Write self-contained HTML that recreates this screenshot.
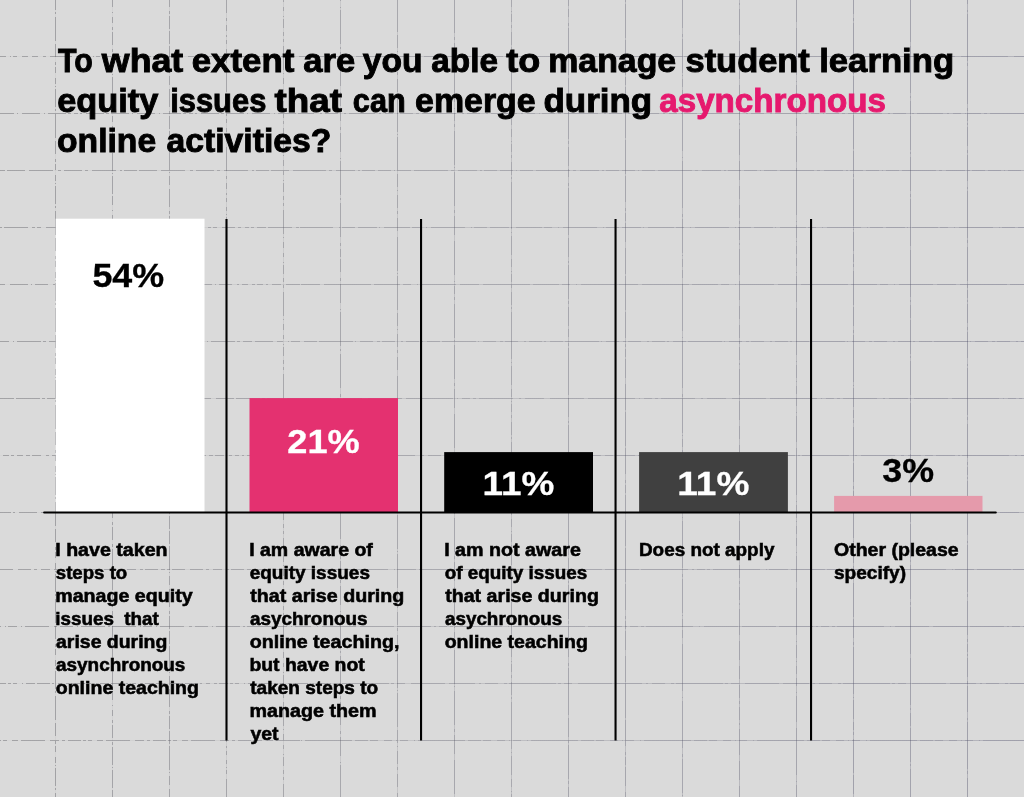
<!DOCTYPE html>
<html lang="en"><head><meta charset="utf-8"><title>Survey chart</title>
<style>
html,body{margin:0;padding:0;background:#dadada;}
body{width:1024px;height:797px;overflow:hidden;}
svg{display:block;}
text{font-family:"Liberation Sans",sans-serif;font-weight:bold;stroke-linejoin:miter;}
.t{font-size:32.6px;stroke-width:0.9;}
.p{font-size:33.8px;stroke-width:0.3;}
.l{font-size:18.4px;stroke-width:0.55;}
</style></head><body>
<svg width="1024" height="797" viewBox="0 0 1024 797">
<rect width="1024" height="797" fill="#dadada"/>
<defs><linearGradient id="hg" gradientUnits="userSpaceOnUse" x1="0" y1="0" x2="1024" y2="0"><stop offset="0" stop-color="#5c5c62" stop-opacity="0.03"/><stop offset="0.3" stop-color="#575763" stop-opacity="0.12"/><stop offset="0.5" stop-color="#535364" stop-opacity="0.2"/><stop offset="1" stop-color="#4a4a66" stop-opacity="0.27"/></linearGradient><linearGradient id="hd" gradientUnits="userSpaceOnUse" x1="0" y1="0" x2="1024" y2="0"><stop offset="0" stop-color="#5c5c62" stop-opacity="0.42"/><stop offset="0.3" stop-color="#575763" stop-opacity="0.3"/><stop offset="0.5" stop-color="#535364" stop-opacity="0.2"/><stop offset="1" stop-color="#4a4a66" stop-opacity="0.18"/></linearGradient></defs>
<g stroke-width="1" fill="none" shape-rendering="crispEdges">
<line x1="55.3" y1="0" x2="55.3" y2="797" stroke="#5b5b62" opacity="0.05"/>
<line x1="55.3" y1="0" x2="55.3" y2="797" stroke="#5b5b62" opacity="0.40" stroke-dasharray="13 5 3 2 6 5 6 2 1 2 18 2 2 3 24 3" stroke-dashoffset="53"/>
<line x1="112.3" y1="0" x2="112.3" y2="797" stroke="#5a5a62" opacity="0.06"/>
<line x1="112.3" y1="0" x2="112.3" y2="797" stroke="#5a5a62" opacity="0.38" stroke-dasharray="18 2 1 2 18 2 9 5 1 4 6 4 3 2 13 4 3 2" stroke-dashoffset="45"/>
<line x1="169.3" y1="0" x2="169.3" y2="797" stroke="#595963" opacity="0.08"/>
<line x1="169.3" y1="0" x2="169.3" y2="797" stroke="#595963" opacity="0.35" stroke-dasharray="9 4 18 4 3 2 13 2 13 2 24 2 1 3" stroke-dashoffset="24"/>
<line x1="226.4" y1="0" x2="226.4" y2="797" stroke="#585863" opacity="0.10"/>
<line x1="226.4" y1="0" x2="226.4" y2="797" stroke="#585863" opacity="0.33" stroke-dasharray="24 5 3 4 6 4 2 3 4 5 4 3 1 2 4 5" stroke-dashoffset="11"/>
<line x1="283.4" y1="0" x2="283.4" y2="797" stroke="#575763" opacity="0.11"/>
<line x1="283.4" y1="0" x2="283.4" y2="797" stroke="#575763" opacity="0.31" stroke-dasharray="24 3 1 4 6 5 4 5 1 2 9 4 4 3 3 4" stroke-dashoffset="36"/>
<line x1="340.4" y1="0" x2="340.4" y2="797" stroke="#565663" opacity="0.13"/>
<line x1="340.4" y1="0" x2="340.4" y2="797" stroke="#565663" opacity="0.28" stroke-dasharray="8 2 13 6 3 3 19 6 1 2 34 3 2 3 34 6 3 3" stroke-dashoffset="53"/>
<line x1="397.4" y1="0" x2="397.4" y2="797" stroke="#555564" opacity="0.16"/>
<line x1="397.4" y1="0" x2="397.4" y2="797" stroke="#555564" opacity="0.26" stroke-dasharray="34 3 13 3 1 4 13 3 3 4 13 6 34 2 1 2" stroke-dashoffset="2"/>
<line x1="454.4" y1="0" x2="454.4" y2="797" stroke="#545464" opacity="0.18"/>
<line x1="454.4" y1="0" x2="454.4" y2="797" stroke="#545464" opacity="0.23" stroke-dasharray="34 4 3 3 19 6 34 6 1 4 8 3 3 4 34 2 1 4" stroke-dashoffset="1"/>
<line x1="511.5" y1="0" x2="511.5" y2="797" stroke="#535364" opacity="0.20"/>
<line x1="511.5" y1="0" x2="511.5" y2="797" stroke="#535364" opacity="0.20" stroke-dasharray="8 4 1 2 8 3 3 4 13 2 2 3 47 3 1 3 19 4" stroke-dashoffset="1"/>
<line x1="568.5" y1="0" x2="568.5" y2="797" stroke="#525264" opacity="0.21"/>
<line x1="568.5" y1="0" x2="568.5" y2="797" stroke="#525264" opacity="0.20" stroke-dasharray="34 2 3 3 19 3 8 6 3 2 47 3 19 4 2 2" stroke-dashoffset="55"/>
<line x1="625.5" y1="0" x2="625.5" y2="797" stroke="#515164" opacity="0.22"/>
<line x1="625.5" y1="0" x2="625.5" y2="797" stroke="#515164" opacity="0.20" stroke-dasharray="26 2 34 2 26 6 3 2 8 2 19 6" stroke-dashoffset="24"/>
<line x1="682.5" y1="0" x2="682.5" y2="797" stroke="#505065" opacity="0.22"/>
<line x1="682.5" y1="0" x2="682.5" y2="797" stroke="#505065" opacity="0.19" stroke-dasharray="47 6 3 2 34 2 1 3 8 3 8 6 47 6 1 3" stroke-dashoffset="19"/>
<line x1="739.5" y1="0" x2="739.5" y2="797" stroke="#4f4f65" opacity="0.23"/>
<line x1="739.5" y1="0" x2="739.5" y2="797" stroke="#4f4f65" opacity="0.19" stroke-dasharray="13 3 2 4 26 6 19 6 13 6 13 3 3 3" stroke-dashoffset="13"/>
<line x1="796.6" y1="0" x2="796.6" y2="797" stroke="#4e4e65" opacity="0.24"/>
<line x1="796.6" y1="0" x2="796.6" y2="797" stroke="#4e4e65" opacity="0.19" stroke-dasharray="13 3 1 4 8 4 8 6 1 3 26 6 47 6 1 3" stroke-dashoffset="55"/>
<line x1="853.6" y1="0" x2="853.6" y2="797" stroke="#4d4d65" opacity="0.25"/>
<line x1="853.6" y1="0" x2="853.6" y2="797" stroke="#4d4d65" opacity="0.19" stroke-dasharray="34 2 19 4 3 2 47 3 1 2 19 3 8 2 3 4" stroke-dashoffset="41"/>
<line x1="910.6" y1="0" x2="910.6" y2="797" stroke="#4c4c66" opacity="0.25"/>
<line x1="910.6" y1="0" x2="910.6" y2="797" stroke="#4c4c66" opacity="0.18" stroke-dasharray="47 4 47 3 2 3 13 2 34 2 2 3 34 3 3 2" stroke-dashoffset="5"/>
<line x1="967.6" y1="0" x2="967.6" y2="797" stroke="#4b4b66" opacity="0.26"/>
<line x1="967.6" y1="0" x2="967.6" y2="797" stroke="#4b4b66" opacity="0.18" stroke-dasharray="26 6 2 2 47 2 3 4 34 4 3 2 8 2 2 2 19 4 3 2" stroke-dashoffset="22"/>
<line x1="0" y1="56.4" x2="1024" y2="56.4" stroke="url(#hg)"/>
<line x1="0" y1="56.4" x2="300" y2="56.4" stroke="url(#hd)" stroke-dasharray="18 2 2 4 13 4 1 2 4 5 6 4 6 5 3 4" stroke-dashoffset="33"/>
<line x1="300" y1="56.4" x2="1024" y2="56.4" stroke="url(#hd)" stroke-dasharray="47 6 26 2 26 4 34 3 3 3 19 6" stroke-dashoffset="55"/>
<line x1="0" y1="113.4" x2="1024" y2="113.4" stroke="url(#hg)"/>
<line x1="0" y1="113.4" x2="300" y2="113.4" stroke="url(#hd)" stroke-dasharray="18 3 1 4 18 4 1 3 18 2 3 3 4 2 2 4 18 2 3 2" stroke-dashoffset="4"/>
<line x1="300" y1="113.4" x2="1024" y2="113.4" stroke="url(#hd)" stroke-dasharray="34 6 2 3 13 6 2 3 26 4 2 4 8 4 1 2 13 3 3 3" stroke-dashoffset="20"/>
<line x1="0" y1="170.4" x2="1024" y2="170.4" stroke="url(#hg)"/>
<line x1="0" y1="170.4" x2="300" y2="170.4" stroke="url(#hd)" stroke-dasharray="24 4 2 2 13 2 18 4 24 5 3 3 18 3 3 4" stroke-dashoffset="40"/>
<line x1="300" y1="170.4" x2="1024" y2="170.4" stroke="url(#hd)" stroke-dasharray="13 3 34 3 3 4 19 3 2 2 13 3 13 3 1 3" stroke-dashoffset="24"/>
<line x1="0" y1="227.5" x2="1024" y2="227.5" stroke="url(#hg)"/>
<line x1="0" y1="227.5" x2="300" y2="227.5" stroke="url(#hd)" stroke-dasharray="4 5 13 3 3 4 4 2 3 3 9 2 24 4 3 2" stroke-dashoffset="51"/>
<line x1="300" y1="227.5" x2="1024" y2="227.5" stroke="url(#hd)" stroke-dasharray="8 6 1 4 34 6 1 2 13 3 19 2 1 4 26 2" stroke-dashoffset="20"/>
<line x1="0" y1="284.5" x2="1024" y2="284.5" stroke="url(#hg)"/>
<line x1="0" y1="284.5" x2="300" y2="284.5" stroke="url(#hd)" stroke-dasharray="13 5 2 3 6 4 3 2 6 3 2 4 9 5 18 3 1 3" stroke-dashoffset="57"/>
<line x1="300" y1="284.5" x2="1024" y2="284.5" stroke="url(#hd)" stroke-dasharray="8 6 1 4 34 4 19 4 47 3 26 3" stroke-dashoffset="56"/>
<line x1="0" y1="341.5" x2="1024" y2="341.5" stroke="url(#hg)"/>
<line x1="0" y1="341.5" x2="300" y2="341.5" stroke="url(#hd)" stroke-dasharray="18 4 6 5 1 2 9 4 1 3 24 2 3 3 9 3" stroke-dashoffset="36"/>
<line x1="300" y1="341.5" x2="1024" y2="341.5" stroke="url(#hd)" stroke-dasharray="13 2 2 4 13 2 34 2 1 4 13 4 3 2 13 6 2 3" stroke-dashoffset="17"/>
<line x1="0" y1="398.5" x2="1024" y2="398.5" stroke="url(#hg)"/>
<line x1="0" y1="398.5" x2="300" y2="398.5" stroke="url(#hd)" stroke-dasharray="9 5 18 2 24 2 3 2 13 3 1 3 18 2 2 3" stroke-dashoffset="18"/>
<line x1="300" y1="398.5" x2="1024" y2="398.5" stroke="url(#hd)" stroke-dasharray="34 6 2 4 19 6 34 4 47 4 1 4 8 3 3 3" stroke-dashoffset="3"/>
<line x1="0" y1="455.5" x2="1024" y2="455.5" stroke="url(#hg)"/>
<line x1="0" y1="455.5" x2="300" y2="455.5" stroke="url(#hd)" stroke-dasharray="9 5 3 3 4 3 2 3 6 2 3 3 6 3 4 2" stroke-dashoffset="29"/>
<line x1="300" y1="455.5" x2="1024" y2="455.5" stroke="url(#hd)" stroke-dasharray="8 3 19 3 2 2 47 6 2 4 34 6 3 4 13 4" stroke-dashoffset="15"/>
<line x1="0" y1="512.6" x2="1024" y2="512.6" stroke="url(#hg)"/>
<line x1="0" y1="512.6" x2="300" y2="512.6" stroke="url(#hd)" stroke-dasharray="13 2 2 4 18 4 3 4 24 3 6 3 18 3" stroke-dashoffset="2"/>
<line x1="300" y1="512.6" x2="1024" y2="512.6" stroke="url(#hd)" stroke-dasharray="47 2 2 3 8 2 3 3 8 2 13 3 19 6 1 3" stroke-dashoffset="21"/>
<line x1="0" y1="569.6" x2="1024" y2="569.6" stroke="url(#hg)"/>
<line x1="0" y1="569.6" x2="300" y2="569.6" stroke="url(#hd)" stroke-dasharray="13 3 4 2 3 2 13 5 13 3 3 4 9 4 3 2" stroke-dashoffset="27"/>
<line x1="300" y1="569.6" x2="1024" y2="569.6" stroke="url(#hd)" stroke-dasharray="47 4 2 3 8 2 3 3 47 6 1 2 19 3 34 2" stroke-dashoffset="31"/>
<line x1="0" y1="626.6" x2="1024" y2="626.6" stroke="url(#hg)"/>
<line x1="0" y1="626.6" x2="300" y2="626.6" stroke="url(#hd)" stroke-dasharray="24 4 1 2 9 4 1 3 24 5 3 3 13 4 1 3 24 3 2 2" stroke-dashoffset="23"/>
<line x1="300" y1="626.6" x2="1024" y2="626.6" stroke="url(#hd)" stroke-dasharray="47 6 1 4 34 4 34 3 34 3 2 3 8 3 3 2" stroke-dashoffset="36"/>
<line x1="0" y1="683.6" x2="1024" y2="683.6" stroke="url(#hg)"/>
<line x1="0" y1="683.6" x2="300" y2="683.6" stroke="url(#hd)" stroke-dasharray="9 2 13 2 2 4 4 4 3 2 9 2 3 2 4 5 1 3" stroke-dashoffset="48"/>
<line x1="300" y1="683.6" x2="1024" y2="683.6" stroke="url(#hd)" stroke-dasharray="34 4 26 4 2 4 13 6 3 2 47 2 3 3 8 6" stroke-dashoffset="56"/>
<line x1="0" y1="740.6" x2="1024" y2="740.6" stroke="url(#hg)"/>
<line x1="0" y1="740.6" x2="300" y2="740.6" stroke="url(#hd)" stroke-dasharray="13 2 3 2 4 5 6 3 24 5 9 3 3 3" stroke-dashoffset="17"/>
<line x1="300" y1="740.6" x2="1024" y2="740.6" stroke="url(#hd)" stroke-dasharray="8 6 1 3 47 3 13 2 8 6 8 4 1 3" stroke-dashoffset="13"/>
</g>
<rect x="55.7" y="218.7" width="148.8" height="293.5" fill="#ffffff"/>
<rect x="249.5" y="398.1" width="148.5" height="114.1" fill="#e43170"/>
<rect x="444.2" y="452.1" width="148.8" height="60.1" fill="#000000"/>
<rect x="639.1" y="452.1" width="148.8" height="60.1" fill="#404040"/>
<rect x="834.1" y="495.9" width="148.4" height="16.3" fill="#e59aab"/>
<g stroke="#000" stroke-width="2.1" fill="none">
<line x1="44.1" y1="512.4" x2="995.8" y2="512.4" stroke-width="2" stroke-linecap="round"/>
<line x1="226.50" y1="218.9" x2="226.50" y2="740.4"/>
<line x1="421.05" y1="218.9" x2="421.05" y2="740.4"/>
<line x1="615.55" y1="218.9" x2="615.55" y2="740.4"/>
<line x1="811.05" y1="218.9" x2="811.05" y2="740.4"/>
</g>
<text id="t1_0" class="t" transform="translate(58.00 72.2) scale(0.9315 1)" fill="#000" stroke="#000">To</text>
<text id="t1_1" class="t" transform="translate(101.85 72.2) scale(1.0970 1)" fill="#000" stroke="#000">what</text>
<text id="t1_2" class="t" transform="translate(191.70 72.2) scale(1.0688 1)" fill="#000" stroke="#000">extent</text>
<text id="t1_3" class="t" transform="translate(303.27 72.2) scale(1.0608 1)" fill="#000" stroke="#000">are</text>
<text id="t1_4" class="t" transform="translate(362.76 72.2) scale(1.0328 1)" fill="#000" stroke="#000">you</text>
<text id="t1_5" class="t" transform="translate(431.29 72.2) scale(1.0234 1)" fill="#000" stroke="#000">able</text>
<text id="t1_6" class="t" transform="translate(506.30 72.2) scale(1.1051 1)" fill="#000" stroke="#000">to</text>
<text id="t1_7" class="t" transform="translate(548.18 72.2) scale(1.0393 1)" fill="#000" stroke="#000">manage</text>
<text id="t1_8" class="t" transform="translate(685.51 72.2) scale(1.0568 1)" fill="#000" stroke="#000">student</text>
<text id="t1_9" class="t" transform="translate(819.17 72.2) scale(1.0646 1)" fill="#000" stroke="#000">learning</text>
<text id="t2_0" class="t" transform="translate(57.21 112.2) scale(1.0534 1)" fill="#000" stroke="#000">equity</text>
<text id="t2_1" class="t" transform="translate(170.15 112.2) scale(0.9482 1)" fill="#000" stroke="#000">issues</text>
<text id="t2_2" class="t" transform="translate(274.50 112.2) scale(1.1297 1)" fill="#000" stroke="#000">that</text>
<text id="t2_3" class="t" transform="translate(352.86 112.2) scale(0.9395 1)" fill="#000" stroke="#000">can</text>
<text id="t2_4" class="t" transform="translate(415.01 112.2) scale(1.0407 1)" fill="#000" stroke="#000">emerge</text>
<text id="t2_5" class="t" transform="translate(543.43 112.2) scale(1.0726 1)" fill="#000" stroke="#000">during</text>
<text id="t2p_0" class="t" transform="translate(659.29 112.2) scale(1.0176 1)" fill="#e6196e" stroke="#e6196e">asynchronous</text>
<text id="t3_0" class="t" transform="translate(57.02 152.3) scale(1.0334 1)" fill="#000" stroke="#000">online</text>
<text id="t3_1" class="t" transform="translate(166.57 152.3) scale(1.0340 1)" fill="#000" stroke="#000">activities?</text>
<text id="p1" class="p" transform="translate(92.40 286.5) scale(1.0621 1)" fill="#000" stroke="#000">54%</text>
<text id="p2" class="p" transform="translate(287.33 453.3) scale(1.0700 1)" fill="#fff" stroke="#fff">21%</text>
<text id="p3" class="p" transform="translate(482.42 495.0) scale(1.0914 1)" fill="#fff" stroke="#fff">11%</text>
<text id="p4" class="p" transform="translate(677.31 495.0) scale(1.0945 1)" fill="#fff" stroke="#fff">11%</text>
<text id="p5" class="p" transform="translate(882.30 482.4) scale(1.0600 1)" fill="#000" stroke="#000">3%</text>
<text id="l0_0" class="l" transform="translate(55.23 555.6) scale(1.0672 1)" fill="#000" stroke="#000">I have taken</text>
<text id="l0_1" class="l" transform="translate(55.79 578.6) scale(1.0137 1)" fill="#000" stroke="#000">steps to</text>
<text id="l0_2" class="l" transform="translate(55.23 601.6) scale(1.0676 1)" fill="#000" stroke="#000">manage equity</text>
<text id="l0_3" class="l" transform="translate(55.28 624.6) scale(1.0229 1)" fill="#000" stroke="#000">issues&#160; that</text>
<text id="l0_4" class="l" transform="translate(56.04 647.6) scale(1.0572 1)" fill="#000" stroke="#000">arise during</text>
<text id="l0_5" class="l" transform="translate(56.04 670.6) scale(1.0296 1)" fill="#000" stroke="#000">asynchronous</text>
<text id="l0_6" class="l" transform="translate(55.77 693.6) scale(1.0611 1)" fill="#000" stroke="#000">online teaching</text>
<text id="l1_0" class="l" transform="translate(249.14 555.6) scale(1.0613 1)" fill="#000" stroke="#000">I am aware of</text>
<text id="l1_1" class="l" transform="translate(249.68 578.6) scale(1.0320 1)" fill="#000" stroke="#000">equity issues</text>
<text id="l1_2" class="l" transform="translate(250.20 601.6) scale(1.0696 1)" fill="#000" stroke="#000">that arise during</text>
<text id="l1_3" class="l" transform="translate(249.94 624.6) scale(1.0277 1)" fill="#000" stroke="#000">asychronous</text>
<text id="l1_4" class="l" transform="translate(249.66 647.6) scale(1.0700 1)" fill="#000" stroke="#000">online teaching,</text>
<text id="l1_5" class="l" transform="translate(249.41 670.6) scale(1.0553 1)" fill="#000" stroke="#000">but have not</text>
<text id="l1_6" class="l" transform="translate(250.20 693.6) scale(1.0349 1)" fill="#000" stroke="#000">taken steps to</text>
<text id="l1_7" class="l" transform="translate(249.40 716.6) scale(1.0728 1)" fill="#000" stroke="#000">manage them</text>
<text id="l1_8" class="l" transform="translate(250.46 739.6) scale(1.0581 1)" fill="#000" stroke="#000">yet</text>
<text id="l2_0" class="l" transform="translate(444.13 555.6) scale(1.0709 1)" fill="#000" stroke="#000">I am not aware</text>
<text id="l2_1" class="l" transform="translate(444.69 578.6) scale(1.0254 1)" fill="#000" stroke="#000">of equity issues</text>
<text id="l2_2" class="l" transform="translate(445.20 601.6) scale(1.0664 1)" fill="#000" stroke="#000">that arise during</text>
<text id="l2_3" class="l" transform="translate(444.94 624.6) scale(1.0246 1)" fill="#000" stroke="#000">asychronous</text>
<text id="l2_4" class="l" transform="translate(444.67 647.6) scale(1.0619 1)" fill="#000" stroke="#000">online teaching</text>
<text id="l3_0" class="l" transform="translate(638.97 555.6) scale(1.0279 1)" fill="#000" stroke="#000">Does not apply</text>
<text id="l4_0" class="l" transform="translate(833.97 555.6) scale(1.0608 1)" fill="#000" stroke="#000">Other (please</text>
<text id="l4_1" class="l" transform="translate(833.98 578.6) scale(1.0367 1)" fill="#000" stroke="#000">specify)</text>
</svg></body></html>
